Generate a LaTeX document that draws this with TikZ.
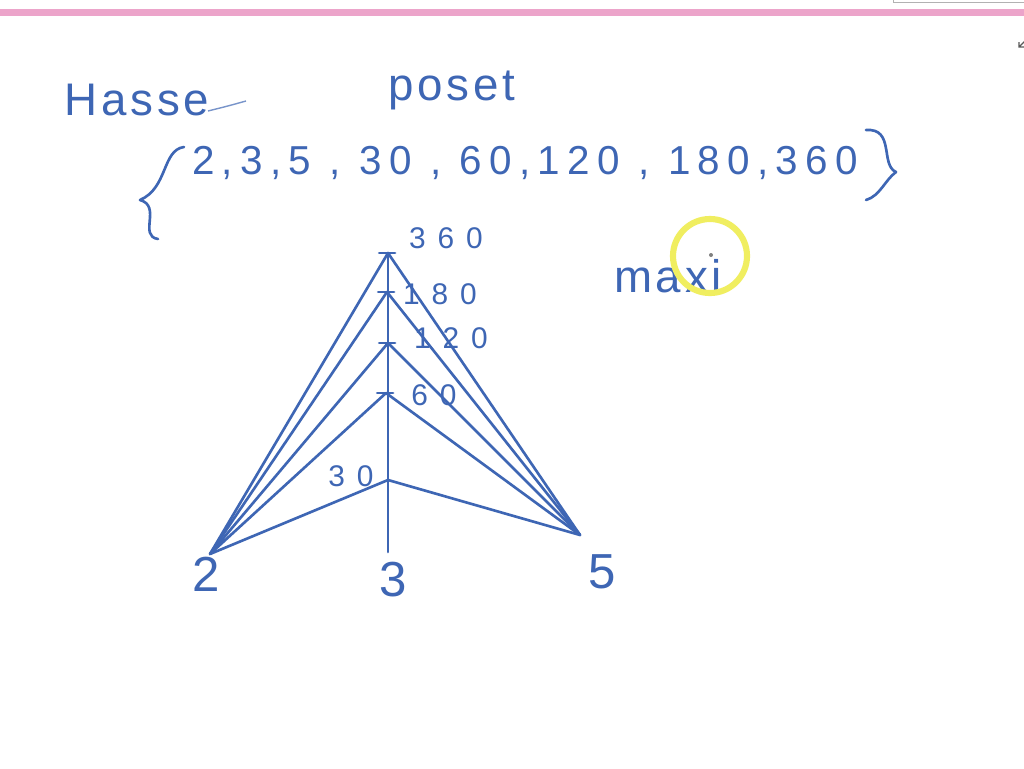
\documentclass[tikz,border=0pt]{standalone}
\usepackage{fontspec}
\setmainfont{Liberation Sans}
\newfontfamily\handfont[LetterSpace=18]{Liberation Sans}
\newfontfamily\wordfont[LetterSpace=8]{Liberation Sans}
\newfontfamily\labelfont[LetterSpace=40]{Liberation Sans}
\usetikzlibrary{positioning}
\definecolor{inkblue}{RGB}{62,102,180}
\definecolor{barpink}{RGB}{236,164,202}
\definecolor{hiyellow}{RGB}{240,238,96}

\begin{document}
\begin{tikzpicture}[x=0.02cm,y=-0.02cm]
\tikzstyle{every node}=[text=inkblue,inner sep=0pt]
\tikzstyle{ink}=[draw=inkblue,line width=1.5pt,line cap=round,line join=round]
\tikzstyle{elem}=[font=\labelfont\fontsize{17}{20}\selectfont]
\tikzstyle{word}=[font=\wordfont\fontsize{26}{30}\selectfont]
\tikzstyle{digit}=[font=\handfont\fontsize{28}{32}\selectfont]
\tikzstyle{setfont}=[font=\handfont\fontsize{23}{28}\selectfont]

\useasboundingbox (0,0) rectangle (1024,768);
\fill[white] (0,0) rectangle (1024,768);
% board header
\fill[barpink] (0,9) rectangle (1024,16);
\draw[gray!60] (893,-1) -- (893,2) -- (1024,2);
\draw[gray!70!black,line width=0.7pt] (1026,40) -- (1019,47) (1019,42) -- (1019,47) -- (1024,47);

\node[word] (hasse) at (137,100) {Hasse};
\draw[inkblue!70,line width=0.8pt] (208,111) .. controls (228,106) .. (246,101);
\node[word] (poset) at (452,90) {poset};
\node[word] (maxi) at (668,276) {maxi};

% the set
\node[setfont] (set) at (525,163) {2,3,5 ,\ 30 ,\ 60,120 ,\ 180,360};
\draw[ink] (184,147) .. controls (162,150) and (168,188) .. (140,200)
  .. controls (162,206) and (138,236) .. (158,239);
\draw[ink] (866,130) .. controls (895,128) and (880,165) .. (896,172)
  .. controls (885,180) and (880,196) .. (866,200);

% the poset
\coordinate (n360) at (388,253);
\coordinate (n180) at (387,292);
\coordinate (n120) at (388,343);
\coordinate (n60) at (386,393);
\coordinate (n30) at (388,480);
\coordinate (n2) at (210,554);
\coordinate (n3) at (388,552);
\coordinate (n5) at (580,535);

\draw[ink] (n360) -- (n3);
\foreach \t in {n360,n180,n120,n60,n30}
  \draw[ink] (n2) -- (\t) -- (n5);
\foreach \t in {n360,n180,n120,n60}
  \draw[ink] ([xshift=-5pt]\t) -- ([xshift=4pt]\t);

\node[elem] (l360) at (446,238) {360};
\node[elem] (l180) at (440,294) {180};
\node[elem] (l120) at (451,338) {120};
\node[elem] (l60) at (434,395) {60};
\node[elem] (l30) at (351,476) {30};
\node[digit] (l2) at (206,574) {2};
\node[digit] (l3) at (393,580) {3};
\node[digit] (l5) at (602,572) {5};

% pointer
\draw[hiyellow,line width=3.5pt] (710,256) circle[radius=37];
\fill[gray] (711,255) circle[radius=2];
\end{tikzpicture}
\end{document}
